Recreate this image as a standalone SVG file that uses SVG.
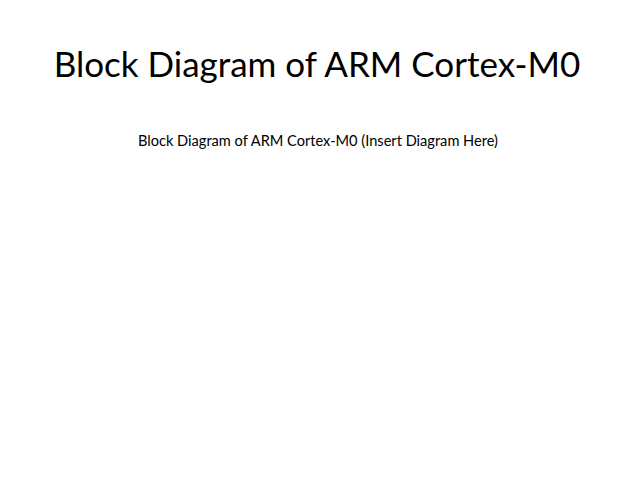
<svg xmlns="http://www.w3.org/2000/svg" width="638" height="478" viewBox="0 0 638 478">
<style>text{font-family:Lato,"Open Sans",sans-serif;fill:#000;text-anchor:middle}</style>
<rect width="638" height="478" fill="#fff"/>
<g id="title"><text x="317" y="77" font-size="35">Block Diagram of ARM Cortex-M0</text></g>
<g id="subtitle"><text x="318" y="146" font-size="14.6">Block Diagram of ARM Cortex-M0 (Insert Diagram Here)</text></g>
</svg>
